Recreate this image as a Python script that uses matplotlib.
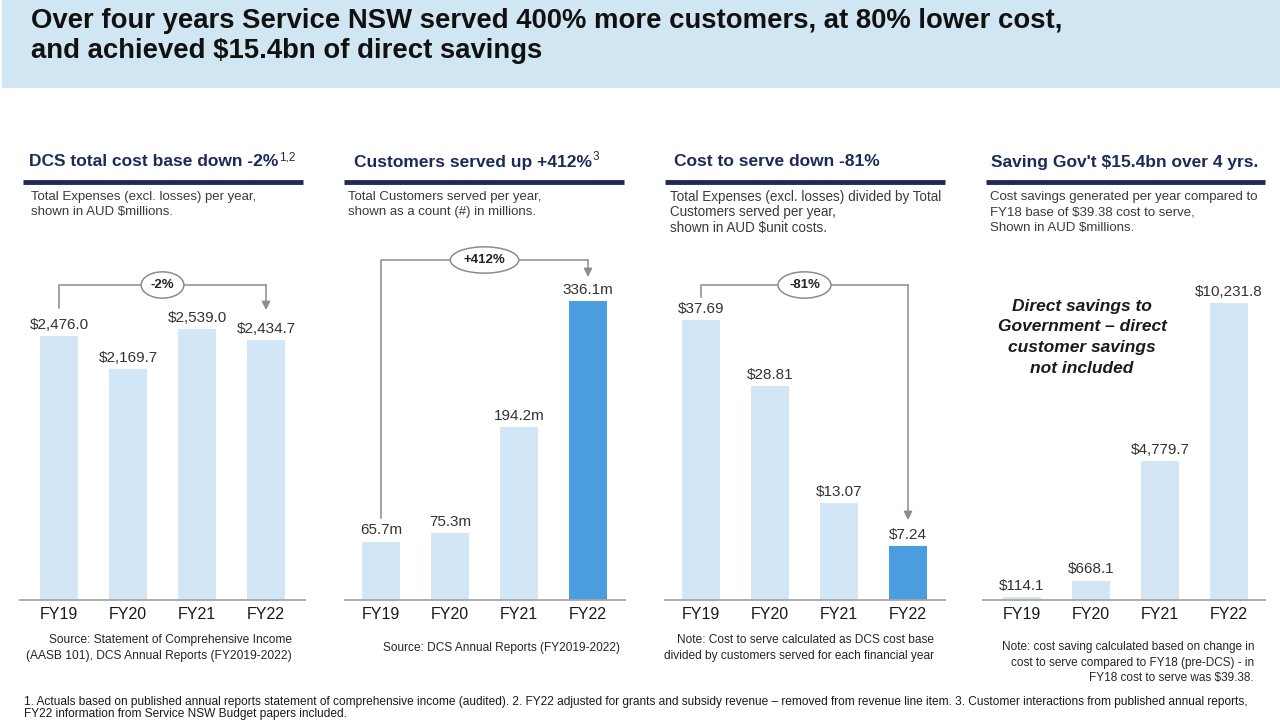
import matplotlib
matplotlib.use('Agg')
import matplotlib.pyplot as plt
from matplotlib import font_manager as fm
from matplotlib.patches import Rectangle
from matplotlib.lines import Line2D

# ---------------- data ----------------
years = ['FY19', 'FY20', 'FY21', 'FY22']
cost_base = [2476.0, 2169.7, 2539.0, 2434.7]
customers = [65.7, 75.3, 194.2, 336.1]
cost_to_serve = [37.69, 28.81, 13.07, 7.24]
savings = [114.1, 668.1, 4779.7, 10231.8]

cost_base_labels = ['$2,476.0', '$2,169.7', '$2,539.0', '$2,434.7']
customers_labels = ['65.7m', '75.3m', '194.2m', '336.1m']
cost_to_serve_labels = ['$37.69', '$28.81', '$13.07', '$7.24']
savings_labels = ['$114.1', '$668.1', '$4,779.7', '$10,231.8']

header_lines = ['Over four years Service NSW served 400% more customers, at 80% lower cost,',
                'and achieved $15.4bn of direct savings']
panel_titles = ['DCS total cost base down -2%', 'Customers served up +412%',
                'Cost to serve down -81%', "Saving Gov't $15.4bn over 4 yrs."]
title_sups = ['1,2', '3', '', '']
subtitles = [
    ['Total Expenses (excl. losses) per year,', 'shown in AUD $millions.'],
    ['Total Customers served per year,', 'shown as a count (#) in millions.'],
    ['Total Expenses (excl. losses) divided by Total', 'Customers served per year,',
     'shown in AUD $unit costs.'],
    ['Cost savings generated per year compared to', 'FY18 base of $39.38 cost to serve,',
     'Shown in AUD $millions.'],
]
change_labels = ['-2%', '+412%', '-81%', None]
notes = [
    ['Source: Statement of Comprehensive Income', '(AASB 101), DCS Annual Reports (FY2019-2022)'],
    ['Source: DCS Annual Reports (FY2019-2022)'],
    ['Note: Cost to serve calculated as DCS cost base',
     'divided by customers served for each financial year'],
    ['Note: cost saving calculated based on change in',
     'cost to serve compared to FY18 (pre-DCS) - in', 'FY18 cost to serve was $39.38.'],
]
callout_lines = ['Direct savings to', 'Government \u2013 direct', 'customer savings', 'not included']
footnote = ('1. Actuals based on published annual reports statement of comprehensive income (audited). '
            '2. FY22 adjusted for grants and subsidy revenue \u2013 removed from revenue line item. '
            '3. Customer interactions from published annual reports,')
footnote2 = 'FY22 information from Service NSW Budget papers included.'

# ---------------- style ----------------
names = {f.name for f in fm.fontManager.ttflist}
SANS = 'Liberation Sans' if 'Liberation Sans' in names else 'DejaVu Sans'
NARROW = 'Liberation Sans Narrow' if 'Liberation Sans Narrow' in names else SANS
plt.rcParams['font.family'] = [SANS, 'DejaVu Sans']

LIGHT = '#d2e6f6'
DARK = '#4a9ee0'
NAVY = '#1d2b5b'
GRAY = '#8c8c8c'
BAND = '#d0e6f3'

W, H = 1280, 720
fig = plt.figure(figsize=(12.8, 7.2), dpi=100)
fig.patch.set_facecolor('white')
renderer = fig.canvas.get_renderer()


def fx(px):
    return px / W


def fy(px):
    return 1 - px / H


def ftext(xpx, ypx, s, **kw):
    return fig.text(fx(xpx), fy(ypx), s, parse_math=False, **kw)


def width_of(t):
    return t.get_window_extent(renderer=renderer).width


def fit(texts, target_px):
    widest = max(texts, key=width_of)
    f = widest.get_fontsize() * target_px / width_of(widest)
    for t in texts:
        t.set_fontsize(f)


# ---------------- header ----------------
fig.patches.append(Rectangle((fx(2), fy(88)), 1 - fx(2), 88 / H, transform=fig.transFigure,
                             facecolor=BAND, edgecolor='none', zorder=0))
h1 = ftext(31, 21, header_lines[0], fontsize=18, fontweight='bold', va='center',
           family=[NARROW, 'DejaVu Sans'], color='#111111')
h2 = ftext(31, 51, header_lines[1], fontsize=18, fontweight='bold', va='center',
           family=[NARROW, 'DejaVu Sans'], color='#111111')
fit([h1], 1034)
h2.set_fontsize(h1.get_fontsize())

# ---------------- panels ----------------
series = [cost_base, customers, cost_to_serve, savings]
series_labels = [cost_base_labels, customers_labels, cost_to_serve_labels, savings_labels]
highlight = [False, True, True, False]
ax_left = [20, 345, 665, 983]
ax_right = [305, 625, 945, 1265]
first_center = [59, 381, 701, 1022]
ymax = [3283, 393.4, 47.11, 12058]
title_x = [29, 354, 674, 991]
rule_x = [(23, 303), (344, 624), (665, 945), (986, 1265)]
sub_x = [31, 348, 670, 990]
sub_w = [227, 195, 272, 269]
bracket_px = [(308, 285, 310), (518, 260, 277), (297, 285, 520), None]
note_right = [292, 620, 934, 1254]
note_y = [[640, 656], [648], [640, 656], [647, 663, 678]]
note_w = [266, 239, 273, 254]

AX_TOP, AX_BOT = 250, 600
SPACING = 69.0

for i in range(4):
    L, R = ax_left[i], ax_right[i]
    ax = fig.add_axes([fx(L), fy(AX_BOT), (R - L) / W, (AX_BOT - AX_TOP) / H])
    ax.set_xlim(-(first_center[i] - L) / SPACING, (R - first_center[i]) / SPACING)
    ax.set_ylim(0, ymax[i])
    ax.patch.set_alpha(0)
    vals = series[i]
    colors = [LIGHT] * 3 + [DARK if highlight[i] else LIGHT]
    ax.bar(range(len(years)), vals, width=0.55, color=colors, zorder=2)
    for j, (v, lab) in enumerate(zip(vals, series_labels[i])):
        ax.annotate(lab, (j, v), xytext=(0, 3), textcoords='offset points', ha='center',
                    va='bottom', fontsize=11, color='#333333', annotation_clip=False)
    for s in ['top', 'left', 'right']:
        ax.spines[s].set_visible(False)
    ax.spines['bottom'].set_color('#a6a6a6')
    ax.spines['bottom'].set_linewidth(1.3)
    ax.set_yticks([])
    ax.set_xticks(range(len(years)))
    ax.set_xticklabels(years, fontsize=11.5, color='#1a1a1a')
    ax.tick_params(axis='x', length=0, pad=5)

    inv = ax.transData.inverted()

    def yd(px):
        return inv.transform((0, H - px))[1]

    if bracket_px[i] is not None:
        start, top, tip = bracket_px[i]
        ax.plot([0, 0, 3], [yd(start), yd(top), yd(top)], color=GRAY, lw=1.1,
                clip_on=False, zorder=3)
        ax.annotate('', xy=(3, yd(tip)), xytext=(3, yd(top)),
                    arrowprops=dict(arrowstyle='-|>,head_length=0.5,head_width=0.25',
                                    color=GRAY, lw=1.1, shrinkA=0, shrinkB=0),
                    annotation_clip=False, zorder=3)
        ax.text(1.5, yd(top), change_labels[i], ha='center', va='center', fontsize=9.5,
                fontweight='bold', color='#222222', clip_on=False, zorder=5,
                bbox=dict(boxstyle='ellipse,pad=0.25', fc='white', ec=GRAY, lw=1.1))

    # panel title, superscript and rule
    t = ftext(title_x[i], 162, panel_titles[i], fontsize=12.5, fontweight='bold',
              color=NAVY, va='center')
    if title_sups[i]:
        bb = t.get_window_extent(renderer=renderer)
        ftext(bb.x1 + 1, 157, title_sups[i], fontsize=8.5, color=NAVY, va='center')
    fig.add_artist(Line2D([fx(rule_x[i][0]), fx(rule_x[i][1])], [fy(182), fy(182)],
                          lw=3.5, color=NAVY, solid_capstyle='butt'))
    # subtitle
    subs = [ftext(sub_x[i], 197 + 15.3 * k, line, fontsize=9.5, color='#3a3a3a', va='center')
            for k, line in enumerate(subtitles[i])]
    fit(subs, sub_w[i])
    # notes below axis
    nts = [ftext(note_right[i], note_y[i][k], line, fontsize=9, color='#262626',
                 va='center', ha='right', family=[NARROW, 'DejaVu Sans'])
           for k, line in enumerate(notes[i])]
    fit(nts, note_w[i])

# callout in savings panel
for k, line in enumerate(callout_lines):
    ftext(1082, 306 + 20.7 * k, line, fontsize=12.5, fontweight='bold', fontstyle='italic',
          color='#1a1a1a', ha='center', va='center')

# footnote
f1 = ftext(24, 702, footnote, fontsize=9, color='#1a1a1a', va='center',
           family=[NARROW, 'DejaVu Sans'])
fit([f1], 1230)
ftext(24, 714, footnote2, fontsize=f1.get_fontsize(), color='#1a1a1a', va='center',
      family=[NARROW, 'DejaVu Sans'])

fig.savefig('out.png', dpi=100, facecolor='white')
